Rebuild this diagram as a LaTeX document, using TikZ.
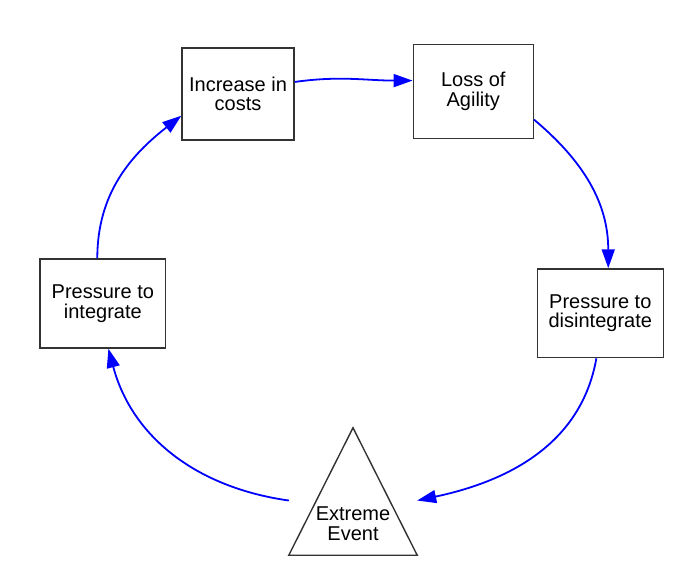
\documentclass[tikz,border=0pt]{standalone}
\usepackage{fontspec}
\setmainfont{Liberation Sans}
\usetikzlibrary{arrows.meta}
\begin{document}
\begin{tikzpicture}[x=1pt,y=-1pt,
  box/.style={draw=black!80, line width=1.4pt, align=center, inner sep=0pt,
    font=\fontsize{20}{19.5}\selectfont},
  tribox/.style={inner sep=0pt, minimum width=128pt, minimum height=127pt,
    font=\fontsize{20}{19.5}\selectfont},
  tri/.style={draw=black!80, line width=1.4pt, line join=miter},
  link/.style={draw=blue, line width=1.8pt, -{Triangle[length=19pt,width=13pt]}},
]
\useasboundingbox (0,0) rectangle (688,575);

\node[box, minimum width=112pt, minimum height=92pt] (inc) at (238,94) {Increase in\\costs};
\node[box, minimum width=120pt, minimum height=94pt] (loss) at (473.3,91.3) {Loss of\\Agility};
\node[box, minimum width=126pt, minimum height=88.7pt] (dis) at (600.3,313.3) {Pressure to\\disintegrate};
\node[box, minimum width=125.7pt, minimum height=89pt] (int) at (102.85,303.5) {Pressure to\\integrate};
\node[tribox] (ext) at (353,491.5)
  {\raisebox{-48.5pt}[0pt][0pt]{\begin{tabular}[b]{@{}c@{}}Extreme\\Event\end{tabular}}};
\draw[tri] (ext.north) -- (ext.south east) -- (ext.south west) -- cycle;

\draw[link] (inc.12) to[out=8, in=180] (loss.170);
\draw[link] (loss.-25) to[out=-40, in=90] (dis.80);
\draw[link] (dis.-95) to[out=-100, in=12] (ext.-8);
\draw[link] (ext.188) to[out=172, in=-75] (int.-83);
\draw[link] (int.97) to[out=90, in=-142] (inc.201);
\end{tikzpicture}
\end{document}
